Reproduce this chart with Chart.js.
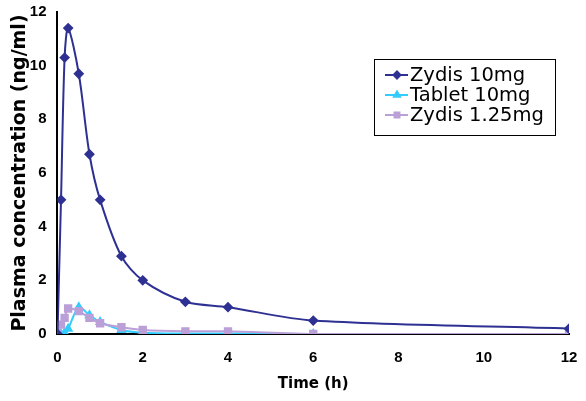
<!DOCTYPE html>
<html>
<head>
<meta charset="utf-8">
<script src="https://cdn.jsdelivr.net/npm/chart.js@4"></script>
<style>
  html, body { margin: 0; padding: 0; background: #fff; }
  #wrap { width: 586px; height: 401px; position: relative; }
</style>
</head>
<body>
<div id="wrap"><canvas id="c"></canvas></div>
<script>
// sampling times (h)
const times = [0, 0.083, 0.167, 0.25, 0.5, 0.75, 1, 1.5, 2, 3, 4, 6, 12];
const zydis10 = [0, 5.0, 10.3, 11.4, 9.7, 6.7, 5.0, 2.9, 2.0, 1.2, 1.0, 0.5, 0.2];
const tablet10 = [0, 0, 0.05, 0.2, 1.0, 0.7, 0.45, 0.15, 0.05, 0.02, 0.02, 0, 0];
const zydis125 = [0, 0.35, 0.6, 0.95, 0.85, 0.6, 0.4, 0.25, 0.15, 0.1, 0.1, 0, 0];
const seriesNames = ['Zydis 10mg', 'Tablet 10mg', 'Zydis 1.25mg'];
const yTicks = [0, 2, 4, 6, 8, 10, 12];
const xTicks = [0, 2, 4, 6, 8, 10, 12];

const toXY = vals => vals.map((v, i) => ({ x: times[i], y: v }));

// legend box drawn by hand so it can sit inside the plot like the original
const boxLegend = {
  id: 'boxLegend',
  afterDraw(chart) {
    const ctx = chart.ctx;
    const x0 = 374, y0 = 59, w = 181, h = 76;
    ctx.save();
    ctx.fillStyle = '#fff';
    ctx.fillRect(x0, y0, w, h);
    ctx.strokeStyle = '#000';
    ctx.lineWidth = 1;
    ctx.strokeRect(x0 + 0.5, y0 + 0.5, w, h);
    ctx.font = '19.5px "DejaVu Sans"';
    ctx.textBaseline = 'middle';
    chart.data.datasets.forEach((ds, i) => {
      const cy = y0 + 16 + i * 20;
      ctx.strokeStyle = ds.borderColor;
      ctx.lineWidth = 2;
      ctx.beginPath();
      ctx.moveTo(x0 + 11, cy);
      ctx.lineTo(x0 + 34, cy);
      ctx.stroke();
      ctx.fillStyle = ds.pointBackgroundColor;
      Chart.helpers.drawPoint(ctx, {
        pointStyle: ds.pointStyle, radius: 3.5, borderWidth: 1
      }, x0 + 23, cy);
      ctx.fillStyle = '#000';
      ctx.fillText(ds.label, x0 + 36, cy + 1);
    });
    ctx.restore();
  }
};

const mk = (label, data, color, style, r, order) => ({
  label: label,
  data: toXY(data),
  borderColor: color,
  backgroundColor: color,
  pointBackgroundColor: color,
  pointBorderColor: color,
  pointStyle: style,
  pointRadius: r,
  borderWidth: 2,
  tension: 0.3,
  order: order
});

new Chart(document.getElementById('c'), {
  type: 'line',
  data: {
    datasets: [
      mk(seriesNames[0], zydis10, '#2e3192', 'rectRot', 4, 0),
      mk(seriesNames[1], tablet10, '#33ccff', 'triangle', 4, 2),
      mk(seriesNames[2], zydis125, '#bba0d8', 'rect', 4.5, 1)
    ]
  },
  options: {
    responsive: true,
    maintainAspectRatio: false,
    animation: false,
    layout: { padding: { top: 12, right: 17, bottom: 8, left: 1 } },
    plugins: {
      legend: { display: false },
      tooltip: { enabled: false }
    },
    scales: {
      x: {
        type: 'linear',
        min: 0, max: 12,
        afterBuildTicks: a => { a.ticks = xTicks.map(v => ({ value: v })); },
        afterFit: s => { s.paddingRight = 0; },
        grid: { display: false, drawTicks: true, tickLength: 5, tickColor: '#000' },
        border: { color: '#000', width: 2 },
        ticks: { color: '#000', font: { family: 'Liberation Sans', size: 15, weight: 'bold' }, padding: 10, maxRotation: 0 },
        title: { display: true, text: 'Time (h)', color: '#000',
          font: { family: 'DejaVu Sans', size: 15, weight: 'bold' }, padding: { top: -2, bottom: 0 } }
      },
      y: {
        min: 0, max: 12,
        afterBuildTicks: a => { a.ticks = yTicks.map(v => ({ value: v })); },
        afterFit: s => { s.paddingTop = 0; s.paddingBottom = 0; },
        grid: { display: false, tickLength: 5, tickColor: '#000' },
        border: { color: '#000', width: 2 },
        ticks: { color: '#000', font: { family: 'Liberation Sans', size: 15, weight: 'bold' }, padding: 6 },
        title: { display: true, text: 'Plasma concentration (ng/ml)', color: '#000',
          font: { family: 'DejaVu Sans', size: 19, weight: 'bold' }, padding: { top: 8, bottom: -8 } }
      }
    }
  },
  plugins: [boxLegend]
});
</script>
</body>
</html>
